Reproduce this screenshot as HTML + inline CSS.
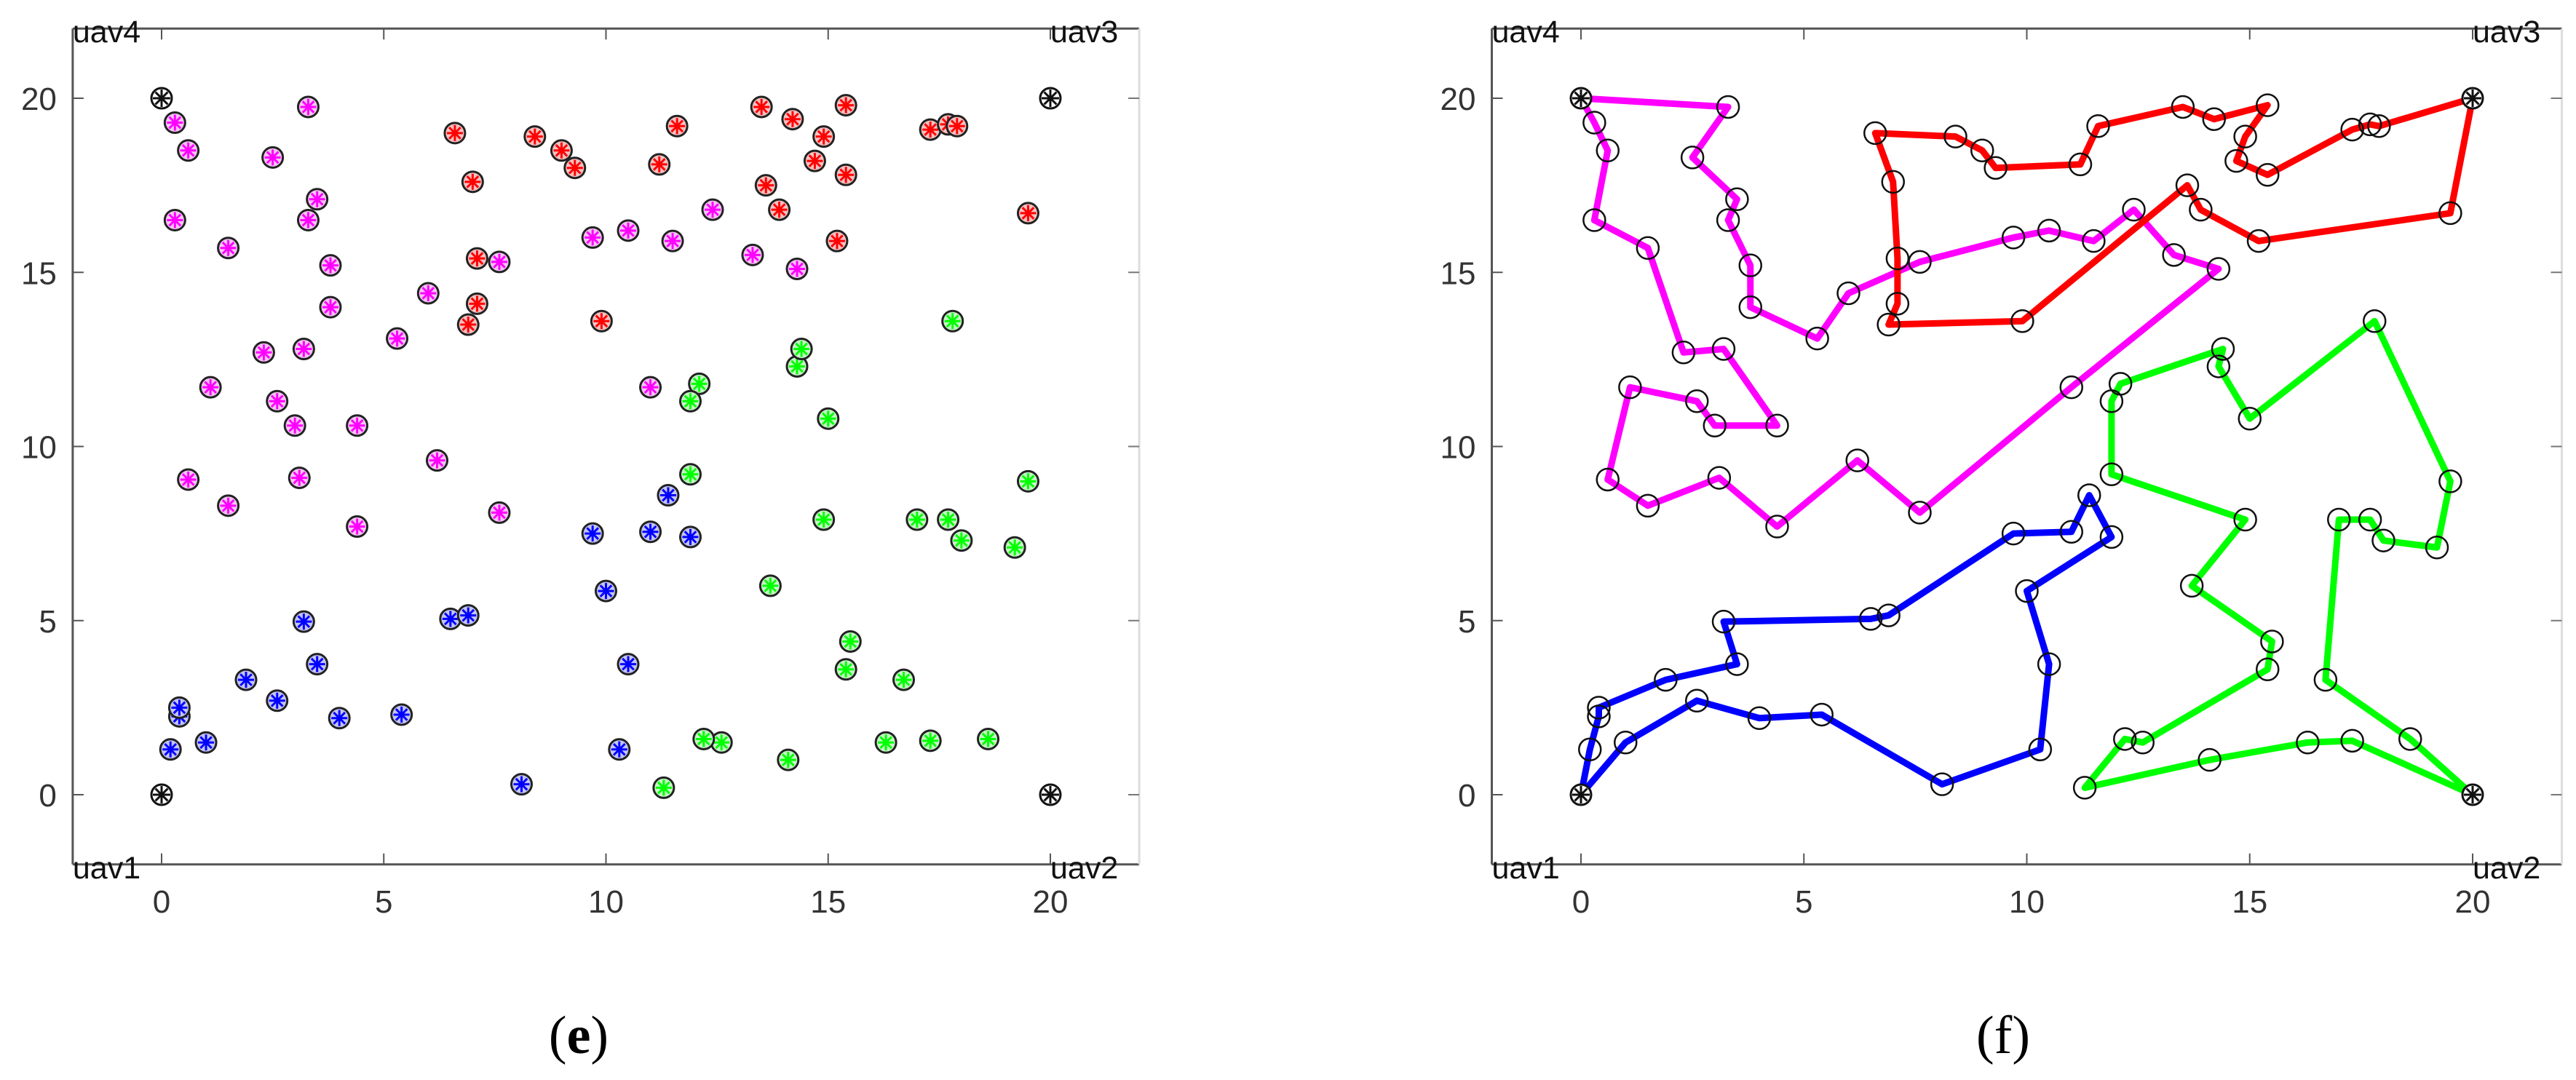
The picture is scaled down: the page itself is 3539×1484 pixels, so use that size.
<!DOCTYPE html>
<html><head><meta charset="utf-8"><style>
html,body{margin:0;padding:0;background:#fff;}
svg{display:block;}
text{font-family:"Liberation Sans",sans-serif;}
</style></head><body>
<svg id="fig" width="3539" height="1484" viewBox="0 0 3539 1484" xmlns="http://www.w3.org/2000/svg">
<g id="pe"></g>
<g id="pf"></g>
<text x="795" y="1447" text-anchor="middle" font-family="Liberation Serif, serif" font-size="74" style="font-family:'Liberation Serif',serif">(<tspan font-weight="bold">e</tspan>)</text>
<text x="2752" y="1447" text-anchor="middle" font-size="74" style="font-family:'Liberation Serif',serif">(f)</text>
</svg>
<script>
const ticks=[0,5,10,15,20];
const tickLabels=["0","5","10","15","20"];
const depotsX=[0,20,20,0];
const depotsY=[0,0,20,20];
const depotNames=["uav1","uav2","uav3","uav4"];
const magentaX=[0,3.3,2.5,3.5,3.3,3.8,3.8,5.3,6.0,7.6,9.7,10.5,11.5,12.4,13.3,14.3,11.0,7.6,6.2,4.4,3.1,1.5,0.6,1.1,2.6,3.0,4.4,3.2,2.3,1.5,0.3,0.6,0.3,0];
const magentaY=[20,19.75,18.3,17.1,16.5,15.2,14.0,13.1,14.4,15.3,16.0,16.2,15.9,16.8,15.5,15.1,11.7,8.1,9.6,7.7,9.1,8.3,9.05,11.7,11.3,10.6,10.6,12.8,12.7,15.7,16.5,18.5,19.3,20];
const redX=[20,19.5,15.2,13.9,13.6,9.9,6.9,7.1,7.1,7.0,6.6,8.4,9.0,9.3,11.2,11.6,13.5,14.2,15.4,14.9,14.7,15.4,17.3,17.7,17.9,20];
const redY=[20,16.7,15.9,16.8,17.5,13.6,13.5,14.1,15.4,17.6,19.0,18.9,18.5,18.0,18.1,19.2,19.75,19.4,19.8,18.9,18.2,17.8,19.1,19.25,19.2,20];
const blueX=[0,0.2,0.4,0.4,1.9,3.5,3.2,6.5,6.9,9.7,11.0,11.4,11.9,10.0,10.5,10.3,8.1,5.4,4.0,2.6,1.0,0];
const blueY=[0,1.3,2.25,2.5,3.3,3.75,4.97,5.05,5.15,7.5,7.55,8.6,7.4,5.85,3.75,1.3,0.3,2.3,2.2,2.7,1.5,0];
const greenX=[20,18.6,16.7,17.0,17.7,18.0,19.2,19.5,17.8,15.0,14.3,14.4,12.1,11.9,11.9,14.9,13.7,15.5,15.4,12.6,12.2,11.3,14.1,16.3,17.3,20];
const greenY=[0,1.6,3.3,7.9,7.9,7.3,7.1,9.0,13.6,10.8,12.3,12.8,11.8,11.3,9.2,7.9,6.0,4.4,3.6,1.5,1.6,0.2,1.0,1.5,1.55,0];
const series=[{n:"magenta",x:magentaX,y:magentaY,c:"#ff00ff",f:"#f7c4f7"},{n:"red",x:redX,y:redY,c:"#ff0000",f:"#f7c0c0"},{n:"blue",x:blueX,y:blueY,c:"#0000ff",f:"#c4c4f7"},{n:"green",x:greenX,y:greenY,c:"#00ff00",f:"#c4f7c4"}];
const NS="http://www.w3.org/2000/svg";
function mk(parent,tag,attrs){const e=document.createElementNS(NS,tag);for(const k in attrs)e.setAttribute(k,attrs[k]);parent.appendChild(e);return e;}
function panel(g,x0px,x20px,isRoute){
  const sx=v=>x0px+(x20px-x0px)*v/20;
  const sy=v=>1092-(1092-135)*v/20;
  const L=sx(-2),R=sx(22),T=sy(22),B=sy(-2);
  let a=mk(g,"line",{x1:L,y1:T,x2:L,y2:B,stroke:"#555","stroke-width":3});
  
  a=mk(g,"line",{x1:L,y1:B,x2:R,y2:B,stroke:"#555","stroke-width":3});
  
  a=mk(g,"line",{x1:L,y1:T,x2:R,y2:T,stroke:"#555","stroke-width":3});
  
  a=mk(g,"line",{x1:R,y1:T,x2:R,y2:B,stroke:"#ddd","stroke-width":3});
  
  ticks.forEach((t,i)=>{
    mk(g,"line",{x1:sx(t),y1:B,x2:sx(t),y2:B-15,stroke:"#555","stroke-width":2});
    mk(g,"line",{x1:sx(t),y1:T,x2:sx(t),y2:T+15,stroke:"#555","stroke-width":2});
    mk(g,"line",{x1:L,y1:sy(t),x2:L+15,y2:sy(t),stroke:"#555","stroke-width":2});
    mk(g,"line",{x1:R,y1:sy(t),x2:R-15,y2:sy(t),stroke:"#777","stroke-width":2});
    let tx=mk(g,"text",{x:sx(t),y:1254,"text-anchor":"middle","font-size":44,fill:"#333"});
    tx.textContent=tickLabels[i];
    
    let ty=mk(g,"text",{x:L-22,y:sy(t)+16,"text-anchor":"end","font-size":44,fill:"#333"});
    ty.textContent=tickLabels[i];
    
  });
  depotNames.forEach((nm,i)=>{
    const left=depotsX[i]===0;const bottom=depotsY[i]===0;
    let t=mk(g,"text",{x:left?L:sx(depotsX[i]),y:bottom?1207:58,"font-size":43,fill:"#111"});
    t.textContent=nm;
    
  });
  function star(cx,cy,r,col,w){for(let k=0;k<4;k++){const ang=k*Math.PI/4;mk(g,"line",{x1:cx-r*Math.cos(ang),y1:cy-r*Math.sin(ang),x2:cx+r*Math.cos(ang),y2:cy+r*Math.sin(ang),stroke:col,"stroke-width":w});}}
  if(isRoute){
    series.forEach(s=>{
      const pts=s.x.map((v,i)=>sx(v)+","+sy(s.y[i])).join(" ");
      let p=mk(g,"polyline",{points:pts,fill:"none",stroke:s.c,"stroke-width":9,"stroke-linejoin":"round"});
      
    });
    series.forEach(s=>{
      s.x.forEach((v,i)=>{
        if(i===0||i===s.x.length-1)return;
        let c=mk(g,"circle",{cx:sx(v),cy:sy(s.y[i]),r:15,fill:"none",stroke:"#111","stroke-width":2.5});
        
      });
    });
  }else{
    series.forEach(s=>{
      s.x.forEach((v,i)=>{
        if(i===0||i===s.x.length-1)return;
        let c=mk(g,"circle",{cx:sx(v),cy:sy(s.y[i]),r:14,fill:s.f,stroke:"#222","stroke-width":3});
        
        star(sx(v),sy(s.y[i]),11,s.c,3);
      });
    });
  }
  depotsX.forEach((v,i)=>{
    let c=mk(g,"circle",{cx:sx(v),cy:sy(depotsY[i]),r:14,fill:"#fff",stroke:"#111","stroke-width":3});
    
    star(sx(v),sy(depotsY[i]),12,"#111",3);
  });
}
panel(document.getElementById("pe"),222,1443,false);
panel(document.getElementById("pf"),2172,3397,true);
</script>
</body></html>
